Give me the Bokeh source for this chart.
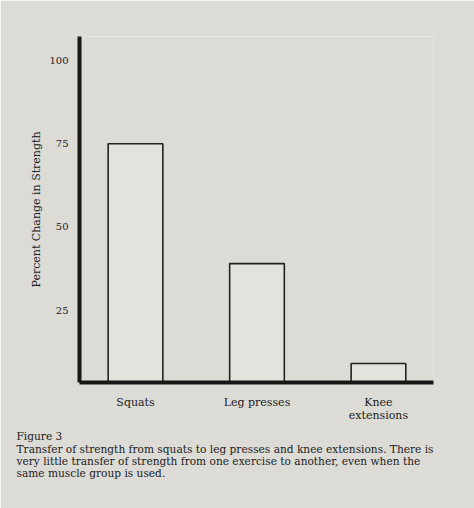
from bokeh.plotting import figure
from bokeh.models import Range1d, FixedTicker, Title, ColumnDataSource
from bokeh.embed import file_html
from bokeh.resources import INLINE

# ---- data ----
categories = ["Squats", "Leg presses", "Knee\nextensions"]
positions = [1, 2, 3]
percent_change = [75, 39, 9]
y_ticks = [25, 50, 75, 100]
y_label = "Percent Change in Strength"
caption_lines = [
    "Figure 3",
    "Transfer of strength from squats to leg presses and knee extensions. There is",
    "very little transfer of strength from one exercise to another, even when the",
    "same muscle group is used.",
]

BG = "#dcdbd6"
INK = "#222222"
FONT = "DejaVu Serif"

src = ColumnDataSource(dict(x=positions, top=percent_change, name=categories))

p = figure(width=474, height=508, output_backend="svg", toolbar_location=None,
           x_range=Range1d(0.539, 3.453), y_range=Range1d(3.3, 107.2),
           min_border_left=79, min_border_top=36, min_border_right=41,
           min_border_bottom=126)
p.background_fill_color = BG
p.border_fill_color = BG
p.outline_line_color = None
p.grid.visible = False

p.vbar(x="x", top="top", bottom=0, width=0.45, source=src,
       fill_color="#e3e2dd", line_color=INK, line_width=1.6)

for ax in (p.xaxis[0], p.yaxis[0]):
    ax.axis_line_width = 4
    ax.axis_line_color = "#161616"
    ax.major_tick_line_color = None
    ax.minor_tick_line_color = None
    ax.major_label_text_font = FONT
    ax.major_label_text_color = INK

p.yaxis.ticker = FixedTicker(ticks=y_ticks)
p.yaxis.major_label_text_font_size = "10px"
p.yaxis.major_label_standoff = 5
p.yaxis.axis_label = y_label
p.yaxis.axis_label_text_font = FONT
p.yaxis.axis_label_text_font_style = "normal"
p.yaxis.axis_label_text_font_size = "11px"
p.yaxis.axis_label_text_color = INK
p.yaxis.axis_label_standoff = 3

p.xaxis.ticker = FixedTicker(ticks=positions)
p.xaxis.major_label_overrides = {pos: cat for pos, cat in zip(positions, categories)}
p.xaxis.major_label_text_font_size = "11px"
p.xaxis.major_label_text_line_height = 1.0
p.xaxis.major_label_standoff = 7

caption = Title(text="\n".join(caption_lines), align="left", offset=-63,
                text_font=FONT, text_font_size="10.6px", text_font_style="normal",
                text_color=INK, text_line_height=1.02, standoff=7)
p.add_layout(caption, "below")

open("out.html", "w").write(file_html(p, INLINE))
